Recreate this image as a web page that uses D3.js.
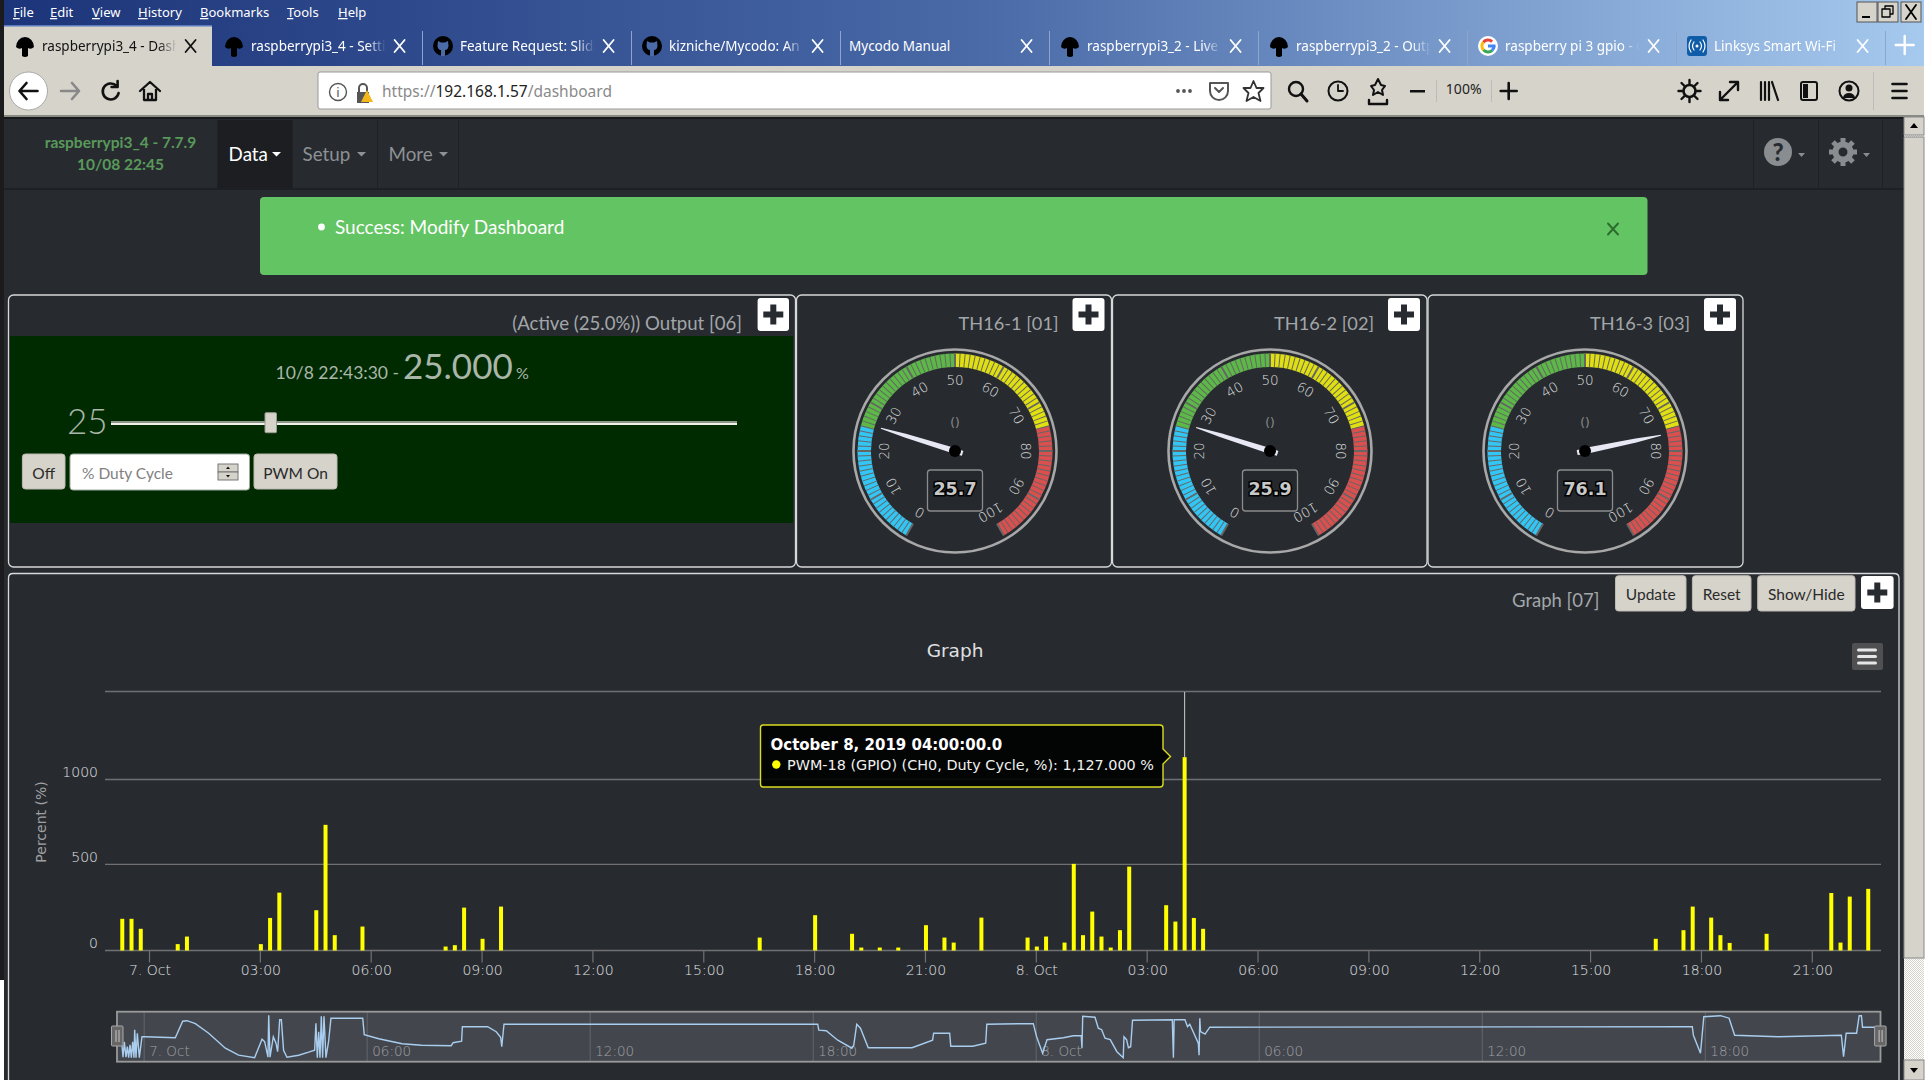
<!DOCTYPE html>
<html>
<head>
<meta charset="utf-8">
<title>Dashboard</title>
<script src="https://cdnjs.cloudflare.com/ajax/libs/d3/7.8.5/d3.min.js"></script>
<style>
  html, body { margin: 0; padding: 0; background: #fff; overflow: hidden; }
  svg { display: block; }
  text { white-space: pre; }
  .ui { font-family: "Noto Sans", sans-serif; }
  .page { font-family: "Lato", sans-serif; }
  .hc { font-family: "DejaVu Sans", sans-serif; }
</style>
</head>
<body>
<div id="container"></div>
<script>
// browser chrome text
const menuItems = ["File", "Edit", "View", "History", "Bookmarks", "Tools", "Help"];
const tabTitles = ["raspberrypi3_4 - Dashboard", "raspberrypi3_4 - Settings", "Feature Request: Slider", "kizniche/Mycodo: An env", "Mycodo Manual", "raspberrypi3_2 - Live", "raspberrypi3_2 - Output", "raspberry pi 3 gpio - Go", "Linksys Smart Wi-Fi"];
const tabIcons = ["mycodo", "mycodo", "github", "github", "", "mycodo", "mycodo", "google", "linksys"];

// gauges
const gaugeTitles = ["TH16-1 [01]", "TH16-2 [02]", "TH16-3 [03]"];
const gaugeValues = [25.7, 25.9, 76.1];
const bandStops = [0, 25, 50, 75, 100];
const bandColors = ["#33c6f4", "#5cb947", "#dfdf12", "#d9504f"];
const gaugeTicks = [0, 10, 20, 30, 40, 50, 60, 70, 80, 90, 100];

// main graph, hours counted from 7 Oct 00:00
const barHours = [-0.75, -0.5, -0.25, 0.75, 1, 3, 3.25, 3.5, 4.5, 4.75, 5, 5.75, 8, 8.25, 8.5, 9, 9.5,
  16.5, 18, 19, 19.25, 19.75, 20.25, 21, 21.5, 21.75, 22.5, 23.75, 24, 24.25, 24.75, 25, 25.25, 25.5, 25.75, 26, 26.25, 26.5,
  27.5, 27.75, 28, 28.25, 28.5,
  40.75, 41.5, 41.75, 42.25, 42.5, 42.75, 43.75, 45.5, 45.75, 46, 46.5];
const barValues = [184, 184, 126, 37, 81, 37, 189, 336, 234, 733, 89, 139, 23, 31, 249, 68, 255,
  75, 205, 97, 17, 17, 17, 147, 75, 46, 191, 75, 23, 81, 46, 503, 89, 226, 81, 17, 118, 487,
  263, 168, 1127, 189, 126,
  68, 118, 255, 191, 89, 44, 97, 334, 46, 313, 358];
const yTicks = [0, 500, 1000];
const yGrid = [0, 500, 1000, 1500];
const xTickHours = [0, 3, 6, 9, 12, 15, 18, 21, 24, 27, 30, 33, 36, 39, 42, 45];
const xTickLabels = ["7. Oct", "03:00", "06:00", "09:00", "12:00", "15:00", "18:00", "21:00", "8. Oct", "03:00", "06:00", "09:00", "12:00", "15:00", "18:00", "21:00"];

// navigator line, height read as percent of the navigator box
const navHours = [-0.615, -0.57, -0.534, -0.49, -0.454, -0.418, -0.382, -0.346, -0.31, -0.274, -0.256, -0.22, -0.185, -0.131, -0.059, 0.03,
  0.837, 1.035, 1.15, 1.376, 1.735, 2.183, 2.54, 2.97, 3.17, 3.24, 3.33, 3.35, 3.385, 3.474, 3.546, 3.59, 3.645, 3.69, 3.75, 3.84,
  4.156, 4.425, 4.586, 4.62, 4.658, 4.694, 4.73, 4.765, 4.8, 4.837, 4.89, 4.96, 5.025, 5.07, 5.88, 5.92, 6.31, 6.94,
  7.46, 8.26, 8.31, 8.54, 8.56, 9.24, 9.47, 9.59, 9.62, 9.68, 18.12, 18.15, 18.35, 18.66, 19.04, 19.09, 19.17, 19.27, 19.48,
  20.66, 21.21, 21.24, 21.67, 21.7, 22.29, 22.64, 22.67, 23.56, 23.92, 24.01, 24.17, 24.29, 24.73, 25, 25.21, 25.23, 25.25,
  25.58, 25.67, 25.76, 25.85, 25.99, 26.17, 26.34, 26.36, 26.43, 26.48, 26.54, 26.59, 27.66, 27.69, 27.71, 28, 28.07, 28.13,
  28.36, 28.38, 28.4, 28.42, 28.54, 28.67, 41.65, 41.68, 41.87, 41.96, 42.41, 42.64, 42.79, 43.96, 45.66, 45.72, 45.79, 46.07,
  46.14, 46.2, 46.23, 46.68];
const navValues = [47, 9, 40, 9, 30, 8, 34, 8, 40, 8, 64, 8, 57, 8, 50, 50,
  48, 81, 82, 76, 57, 27, 13, 8, 45, 40, 9, 93, 9, 50, 37, 20, 84, 84, 23, 9,
  13, 19, 23, 77, 8, 60, 8, 91, 8, 91, 8, 40, 87, 87, 87, 54, 46, 36,
  33, 32, 38, 41, 70, 70, 60, 49, 30, 75, 75, 63, 62, 43, 27, 33, 75, 67, 28,
  28, 43, 57, 57, 31, 31, 37, 75, 76, 76, 50, 17, 44, 48, 52, 52, 27, 91,
  89, 67, 64, 47, 44, 20, 8, 50, 44, 28, 30, 83, 84, 8, 84, 84, 70, 75,
  37, 13, 87, 60, 55, 69, 70, 53, 17, 90, 92, 87, 53, 50, 53, 10, 57, 57,
  92, 92, 69, 69];
const navTickHours = [0, 6, 12, 18, 24, 30, 36, 42];
const navTickLabels = ["7. Oct", "06:00", "12:00", "18:00", "8. Oct", "06:00", "12:00", "18:00"];

const CHROME = "#d6d3cb";
const PAGE = "#272b30";

const svg = d3.select("#container").append("svg").attr("width", 1928).attr("height", 1080);
const defs = svg.append("defs");

const titleGrad = defs.append("linearGradient").attr("id", "titleGrad");
titleGrad.append("stop").attr("offset", "0").attr("stop-color", "#1c3479");
titleGrad.append("stop").attr("offset", "0.5").attr("stop-color", "#4868a6");
titleGrad.append("stop").attr("offset", "1").attr("stop-color", "#a6c9ee");

const fadeGrad = defs.append("linearGradient").attr("id", "fadeGrad");
fadeGrad.append("stop").attr("offset", "0.86").attr("stop-color", "#fff");
fadeGrad.append("stop").attr("offset", "1").attr("stop-color", "#000");
defs.append("mask").attr("id", "tabFade").attr("maskUnits", "userSpaceOnUse")
  .attr("x", 0).attr("y", -20).attr("width", 135).attr("height", 40)
  .append("rect").attr("x", 0).attr("y", -20).attr("width", 135).attr("height", 40).attr("fill", "url(#fadeGrad)");

const hatch = defs.append("pattern").attr("id", "hatch").attr("width", 2).attr("height", 2).attr("patternUnits", "userSpaceOnUse");
hatch.append("rect").attr("width", 2).attr("height", 2).attr("fill", "#fff");
hatch.append("rect").attr("width", 1).attr("height", 1).attr("fill", CHROME);
hatch.append("rect").attr("x", 1).attr("y", 1).attr("width", 1).attr("height", 1).attr("fill", CHROME);

function rect(g, x0, y0, x1, y1, fill, r) {
  return g.append("rect").attr("x", x0).attr("y", y0).attr("width", x1 - x0).attr("height", y1 - y0)
    .attr("fill", fill).attr("rx", r || 0);
}
function label(g, x, y, str, size, fill, anchor) {
  return g.append("text").attr("x", x).attr("y", y).text(str)
    .attr("font-size", size).attr("fill", fill).attr("text-anchor", anchor || "start");
}
function icon(g, x, y, d, fill, stroke, width) {
  return g.append("path").attr("transform", `translate(${x},${y})`).attr("d", d)
    .attr("fill", fill || "none").attr("stroke", stroke || "none").attr("stroke-width", width || 0)
    .attr("stroke-linecap", "round").attr("stroke-linejoin", "round");
}

drawChrome();
drawPageHeader();
drawOutputBox();
gaugeTitles.forEach(drawGauge);
drawGraph();
drawScrollbar();

function tabIcon(g, kind) {
  const cx = 21;
  if (kind === "mycodo") {
    icon(g, cx, 0, "M-9 1 A9 10 0 0 1 9 1 Q6 4 3 2 L3 10 Q0 12 -3 10 L-3 2 Q-6 4 -9 1Z", "#000");
  } else if (kind === "github") {
    g.append("circle").attr("cx", cx).attr("r", 10).attr("fill", "#000");
    icon(g, cx, 0, "M-5 -5 L-2 -3.5 L2 -3.5 L5 -5 L5.5 0 Q5 4 2 4 L2 10 L-2 10 L-2 4 Q-5 4 -5.5 0Z", "#4a6aa8");
  } else if (kind === "google") {
    g.append("circle").attr("cx", cx).attr("r", 10).attr("fill", "#fff");
    const gArc = d3.arc().innerRadius(4.5).outerRadius(7.5);
    [["#ea4335", -0.9, 0.75], ["#fbbc05", -2.3, -0.9], ["#34a853", -3.9, -2.3], ["#4285f4", 1.57, 2.4]].forEach((s) => {
      g.append("path").attr("transform", `translate(${cx},0)`)
        .attr("d", gArc({ startAngle: s[1], endAngle: s[2] })).attr("fill", s[0]);
    });
    rect(g, cx, -1.5, cx + 7.5, 1.5, "#4285f4");
  } else if (kind === "linksys") {
    rect(g, cx - 10, -10, cx + 10, 10, "#0f5da8", 3);
    icon(g, cx, 0, "M-3 -4 Q-6 0 -3 4 M3 -4 Q6 0 3 4 M-6 -6 Q-10 0 -6 6 M6 -6 Q10 0 6 6", "none", "#fff", 1.2);
    g.append("circle").attr("cx", cx).attr("r", 1.5).attr("fill", "#fff");
  }
}

function drawChrome() {
  const g = svg.append("g").attr("class", "ui");
  rect(g, 0, 0, 1924, 66, "url(#titleGrad)");
  rect(g, 0, 66, 1924, 116, CHROME);
  rect(g, 0, 115, 1924, 117, "#8a8a84");

  // menu bar
  const menuX = [13, 50, 92, 138, 200, 287, 338];
  menuItems.forEach((m, i) => {
    const t = label(g, menuX[i], 17, "", 13, "#fff");
    t.append("tspan").attr("text-decoration", "underline").text(m[0]);
    t.append("tspan").text(m.slice(1));
  });

  // window buttons
  [[1857, "min"], [1878, "max"], [1901, "x"]].forEach((b) => {
    rect(g, b[0], 2, b[0] + 20, 22, CHROME).attr("stroke", "#555").attr("stroke-width", 1);
  });
  rect(g, 1862, 16, 1870, 18, "#000");
  icon(g, 1887, 12, "M-5 -3 H3 V5 H-5Z M-2 -3 V-6 H6 V2 H3", "none", "#000", 1.3);
  icon(g, 1911, 12, "M-5 -7 L5 7 M5 -7 L-5 7", "none", "#000", 1.8);

  // tabs
  rect(g, 4, 25, 212, 66, CHROME);
  rect(g, 4, 25, 212, 26.5, "#5a7ac0");
  tabTitles.forEach((t, i) => {
    const left = 4 + 209 * i;
    const tg = g.append("g").attr("transform", `translate(${left},46)`);
    const active = i === 0;
    if (!active && i > 0) rect(tg, 209, -15, 210, 19, "#8ea6cc");
    tabIcon(tg, tabIcons[i]);
    const textX = tabIcons[i] ? 38 : 9;
    const clip = tg.append("g").attr("transform", `translate(${textX},0)`);
    if (tabIcons[i]) clip.attr("mask", "url(#tabFade)");
    label(clip, 0, 5, t, 13.5, active ? "#111" : "#fff");
    const c = active ? "#111" : "#fff";
    icon(tg, 186.6, 0, "M-5 -6 L5 6 M5 -6 L-5 6", "none", c, 1.8);
  });
  icon(g, 1904.7, 45, "M-9 0 H9 M0 -9 V9", "none", "#fff", 2.4);

  // nav buttons
  g.append("circle").attr("cx", 28.5).attr("cy", 91).attr("r", 19).attr("fill", "#fff").attr("stroke", "#aaa");
  icon(g, 28.5, 91, "M9 0 H-9 M-2 -8 L-9 0 L-2 8", "none", "#111", 2.6);
  icon(g, 70, 91, "M-9 0 H9 M2 -8 L9 0 L2 8", "none", "#888", 2.6);
  icon(g, 110.6, 91, "M6 -5 A8 8 0 1 0 8 2 M7 -10 V-4 H1", "none", "#111", 2.6);
  icon(g, 150, 91, "M-10 0 L0 -9 L10 0 M-6 -2 V9 H6 V-2 M-2 9 V3 H2 V9", "none", "#111", 2.3);

  // url bar
  rect(g, 318, 72, 1271, 109, "#fff", 2).attr("stroke", "#999");
  g.append("circle").attr("cx", 338).attr("cy", 92).attr("r", 8.5).attr("fill", "none").attr("stroke", "#555").attr("stroke-width", 1.4);
  label(g, 338, 97, "i", 13, "#555", "middle");
  icon(g, 363, 94, "M-6 -2 H6 V9 H-6Z", "#555");
  icon(g, 363, 94, "M-4 -2 V-6 A4 4 0 0 1 4 -6 V-2", "none", "#555", 2);
  icon(g, 367, 97, "M0 -7 L6 5 H-6Z", "#f3b71b");
  const url = label(g, 382, 97, "", 15.5, "#8a8a8a");
  url.append("tspan").text("https://");
  url.append("tspan").attr("fill", "#222").text("192.168.1.57");
  url.append("tspan").text("/dashboard");

  [1178, 1184, 1190].forEach((x) => g.append("circle").attr("cx", x).attr("cy", 91).attr("r", 1.9).attr("fill", "#555"));
  icon(g, 1219, 91, "M-9 -8 H9 V0 A9 9 0 0 1 -9 0Z M-4 -3 L0 1 L4 -3", "none", "#555", 2);
  icon(g, 1253.5, 91, "M0 -10 L3 -3 L10 -3 L5 2 L7 10 L0 6 L-7 10 L-5 2 L-10 -3 L-3 -3Z", "none", "#333", 1.8);
  icon(g, 1296, 89, "M5 5 L11 12", "none", "#111", 3);
  g.append("circle").attr("cx", 1296).attr("cy", 89).attr("r", 7).attr("fill", "none").attr("stroke", "#111").attr("stroke-width", 2.4);
  g.append("circle").attr("cx", 1338).attr("cy", 91).attr("r", 9.5).attr("fill", "none").attr("stroke", "#111").attr("stroke-width", 2);
  icon(g, 1338, 91, "M0 -6 V0 H5", "none", "#111", 1.8);
  icon(g, 1378, 88, "M0 -9 L3 -3 L7 -2 L4 2 L5 7 L0 4 L-5 7 L-4 2 L-7 -2 L-3 -3Z", "none", "#111", 2);
  icon(g, 1378, 103, "M-9 -3 V1 H9 V-3", "none", "#111", 2.4);
  rect(g, 1410, 90, 1425, 92.5, "#111");
  rect(g, 1436, 80, 1437, 102, "#bbb");
  label(g, 1463.7, 94, "100%", 14, "#222", "middle");
  rect(g, 1491, 80, 1492, 102, "#bbb");
  icon(g, 1508.7, 91, "M-8 0 H8 M0 -8 V8", "none", "#111", 2.6);
  g.append("circle").attr("cx", 1689.5).attr("cy", 91).attr("r", 6).attr("fill", "none").attr("stroke", "#111").attr("stroke-width", 2.6);
  icon(g, 1689.5, 91, "M0 -11 V-7 M0 7 V11 M-11 0 H-7 M7 0 H11 M-8 -8 L-5 -5 M5 5 L8 8 M8 -8 L5 -5 M-5 5 L-8 8", "none", "#111", 2.4);
  icon(g, 1729, 91, "M-8 8 L8 -8 M1 -9 H9 V-1 M-9 1 V9 H-1", "none", "#111", 2.4);
  icon(g, 1769, 91, "M-8 -9 V9 M-4 -9 V9 M0 -9 V9 M3 -9 L9 9", "none", "#111", 2.2);
  rect(g, 1801, 82, 1817, 100, "none", 2).attr("stroke", "#111").attr("stroke-width", 2);
  rect(g, 1803, 84, 1808, 98, "#111");
  g.append("circle").attr("cx", 1849).attr("cy", 91).attr("r", 9.5).attr("fill", "none").attr("stroke", "#111").attr("stroke-width", 2);
  g.append("circle").attr("cx", 1849).attr("cy", 88).attr("r", 3.5).attr("fill", "#111");
  icon(g, 1849, 98, "M-6 0 A6 5 0 0 1 6 0Z", "#111");
  rect(g, 1873, 72, 1874, 110, "#bbb");
  icon(g, 1899.5, 91, "M-7 -7 H7 M-7 0 H7 M-7 7 H7", "none", "#111", 2.6);

  // window edge strips
  rect(svg, 1924, 0, 1928, 1080, "#fff");
  rect(svg, 0, 0, 4, 980, "#1b1b1d");
  rect(svg, 0, 980, 4, 1080, "#fff");
}

function drawPageHeader() {
  const g = svg.append("g").attr("class", "page");
  rect(g, 4, 117, 1904, 1080, PAGE);
  rect(g, 4, 117, 1904, 119, "#16181b");
  rect(g, 4, 188.5, 1904, 189.5, "#15171a");
  rect(g, 217, 120, 292, 188, "#1c1e22");
  [217, 292, 377, 458, 1753, 1818, 1882].forEach((x) => rect(g, x, 120, x + 1, 188, "#1e2125"));

  label(g, 120.5, 148, "raspberrypi3_4 - 7.7.9", 15.5, "#59995a", "middle").attr("font-weight", 700);
  label(g, 120.5, 170, "10/08 22:45", 15.5, "#59995a", "middle").attr("font-weight", 700);

  [["Data", 228.6, "#fff", 272], ["Setup", 302.5, "#8e9194", 357], ["More", 388.5, "#8e9194", 439]].forEach((n) => {
    label(g, n[1], 161, n[0], 18.8, n[2]);
    icon(g, n[3], 152, "M0 0 H9 L4.5 4.5Z", n[2]);
  });
  g.append("circle").attr("cx", 1778).attr("cy", 152).attr("r", 14).attr("fill", "#8a8d90");
  label(g, 1778, 161, "?", 24, PAGE, "middle").attr("font-weight", 900);
  icon(g, 1798, 153, "M0 0 H7 L3.5 4Z", "#8a8d90");
  icon(g, 1843, 152, "M0 -14 V-9 M0 14 V9 M-14 0 H-9 M14 0 H9 M-10 -10 L-6 -6 M10 10 L6 6 M10 -10 L6 -6 M-10 10 L-6 6", "none", "#8a8d90", 5).attr("stroke-linecap", "butt");
  g.append("circle").attr("cx", 1843).attr("cy", 152).attr("r", 7.5).attr("fill", "none").attr("stroke", "#8a8d90").attr("stroke-width", 6);
  icon(g, 1863, 153, "M0 0 H7 L3.5 4Z", "#8a8d90");

  rect(g, 260, 197, 1647.5, 275, "#62c462", 4);
  g.append("circle").attr("cx", 321.5).attr("cy", 227).attr("r", 3.4).attr("fill", "#fff");
  label(g, 335, 234, "Success: Modify Dashboard", 19, "#fff");
  icon(g, 1613, 229, "M-5 -5.5 L5 5.5 M5 -5.5 L-5 5.5", "none", "#2d6b2d", 1.9);
}

function plusButton(g, x0, y0, x1, y1) {
  rect(g, x0, y0, x1, y1, "#fff", 3);
  const cx = (x0 + x1) / 2, cy = (y0 + y1) / 2;
  icon(g, cx, cy, "M-10 0 H10 M0 -10 V10", "none", "#272b30", 6).attr("stroke-linecap", "butt");
}
function box(g, x0, y0, x1, y1) {
  rect(g, x0, y0, x1, y1, "none", 5).attr("stroke", "#d8d8d8").attr("stroke-width", 1.3);
}
function button(g, x0, y0, x1, y1, str) {
  rect(g, x0, y0, x1, y1, CHROME, 3).attr("stroke", "#bdbab2");
  label(g, (x0 + x1) / 2, (y0 + y1) / 2 + 7, str, 15.5, "#2a2a2a", "middle");
}

function drawOutputBox() {
  const g = svg.append("g").attr("class", "page");
  rect(g, 10, 336, 793, 523, "#002b00");
  box(g, 8.5, 295, 795.5, 567);
  plusButton(g, 757.6, 298, 789, 331);
  label(g, 742, 329.5, "(Active (25.0%)) Output [06]", 18.6, "#a3a6a9", "end");
  label(g, 275.5, 379, "10/8 22:43:30 -", 17.5, "#aab6aa");
  label(g, 403, 379, "25.000", 35, "#aab6aa").attr("font-weight", 400);
  label(g, 516, 379, "%", 16, "#aab6aa");
  label(g, 67, 434, "25", 35, "#aab6aa").attr("font-weight", 300);
  rect(g, 111, 421, 737, 423, "#8d958d");
  rect(g, 111, 423, 737, 425, "#f0f0ea");
  rect(g, 265, 412.7, 276.5, 432.7, CHROME, 1).attr("stroke", "#9a9a90");
  button(g, 22.4, 454, 65, 489, "Off");
  rect(g, 70, 454, 249.5, 490, "#fff", 3).attr("stroke", "#9ea89e");
  label(g, 82, 479, "% Duty Cycle", 15.5, "#7f7f7f");
  rect(g, 218, 464, 238, 472, CHROME).attr("stroke", "#777");
  rect(g, 218, 472, 238, 480, CHROME).attr("stroke", "#777");
  icon(g, 228, 468, "M-2 1 H2 L0 -1.5Z", "#111");
  icon(g, 228, 476, "M-2 -1 H2 L0 1.5Z", "#111");
  button(g, 254, 454, 337, 489, "PWM On");
}

function drawGauge(title, i) {
  const left = [796.5, 1112.5, 1428][i];
  const right = [1111.5, 1427, 1743][i];
  const cx = [955, 1270, 1585][i];
  const cy = 451;
  const pageG = svg.append("g").attr("class", "page");
  box(pageG, left, 295, right, 567);
  plusButton(pageG, right - 39, 298, right - 7, 331);
  label(pageG, right - 53, 329.5, title, 18.2, "#a3a6a9", "end");

  const g = svg.append("g").attr("class", "hc").attr("transform", `translate(${cx},${cy})`);
  const angle = d3.scaleLinear().domain([0, 100]).range([-150, 150]);
  const rad = (d) => (angle(d) * Math.PI) / 180;
  g.append("circle").attr("r", 101.5).attr("fill", "none").attr("stroke", "#a8a8a8").attr("stroke-width", 2.6);

  const arc = d3.arc().innerRadius(84).outerRadius(97.5);
  bandColors.forEach((c, k) => {
    g.append("path").attr("fill", c)
      .attr("d", arc({ startAngle: rad(bandStops[k]), endAngle: rad(bandStops[k + 1]) }));
  });
  d3.range(0, 101).forEach((v) => {
    const major = v % 10 === 0;
    g.append("line").attr("transform", `rotate(${angle(v)})`)
      .attr("y1", -84).attr("y2", -97.5)
      .attr("stroke", "#666").attr("stroke-width", major ? 2 : 1);
  });
  gaugeTicks.forEach((v) => {
    const a = rad(v);
    g.append("text").text(v)
      .attr("transform", `translate(${71 * Math.sin(a)},${-71 * Math.cos(a)}) rotate(${angle(v)})`)
      .attr("text-anchor", "middle").attr("dy", "0.36em")
      .attr("font-size", 13.5).attr("font-weight", 200).attr("fill", "#dcdcdc");
  });
  g.append("text").text("()").attr("y", -24).attr("text-anchor", "middle")
    .attr("font-size", 12).attr("fill", "#8c8c8c");

  rect(g, -27.5, 19, 27.5, 60, "#25282c", 3).attr("stroke", "#8b8b8b").attr("stroke-width", 1.3);
  g.append("text").text(gaugeValues[i]).attr("y", 44).attr("text-anchor", "middle")
    .attr("font-size", 17.5).attr("font-weight", 700).attr("fill", "#c8c8c8")
    .attr("stroke", "#000").attr("stroke-width", 3).attr("paint-order", "stroke");

  g.append("path").attr("transform", `rotate(${angle(gaugeValues[i])})`)
    .attr("d", "M-2.5 8 L-3 0 L-2 -52 L-0.5 -77.5 L0.5 -77.5 L2 -52 L3 0 L2.5 8Z")
    .attr("fill", "#e8e8f4");
  g.append("circle").attr("r", 6).attr("fill", "#000");
}

function drawGraph() {
  const pageG = svg.append("g").attr("class", "page");
  pageG.append("path").attr("d", "M8.5 1090 V578 Q8.5 573.5 13 573.5 H1894 Q1899 573.5 1899 578 V1090")
    .attr("fill", "none").attr("stroke", "#d8d8d8").attr("stroke-width", 1.3);
  label(pageG, 1599.4, 607, "Graph [07]", 18.5, "#a3a6a9", "end");
  button(pageG, 1615.5, 575.7, 1686, 611, "Update");
  button(pageG, 1692.4, 575.7, 1751, 611, "Reset");
  button(pageG, 1757.7, 575.7, 1855, 611, "Show/Hide");
  plusButton(pageG, 1861, 576, 1893.6, 609);

  const g = svg.append("g").attr("class", "hc");
  label(g, 955, 657, "Graph", 18.5, "#e0e0e3", "middle");

  rect(g, 1852, 643, 1883, 670, "#505053", 2);
  [650, 656.5, 663].forEach((y) => rect(g, 1857, y - 1.5, 1877, y + 1.5, "#e6e6e6", 1.5));

  const x = d3.scaleLinear().domain([0, 45]).range([150, 1812.8]);
  const y = d3.scaleLinear().domain(yGrid).range([950.5, 864.4, 779.5, 691.5]);
  const plotLeft = 105, plotRight = 1881;

  g.selectAll(".grid").data(yGrid).enter().append("line").attr("class", "grid")
    .attr("x1", plotLeft).attr("x2", plotRight)
    .attr("y1", (d) => y(d)).attr("y2", (d) => y(d))
    .attr("stroke", "#707073").attr("stroke-width", 1.4);

  const xAxis = d3.axisBottom(x).tickValues(xTickHours)
    .tickFormat((d, i) => xTickLabels[i]).tickSize(12).tickPadding(3);
  const xg = g.append("g").attr("transform", `translate(0,${y(0)})`).call(xAxis);
  xg.select(".domain").remove();
  xg.selectAll("line").attr("stroke", "#707073").attr("stroke-width", 1.2).attr("transform", "translate(-1,0)");
  xg.selectAll("text").attr("fill", "#e0e0e3").attr("font-size", 14).attr("font-weight", 200).attr("font-family", "DejaVu Sans").attr("dx", -0.5);

  const yAxis = d3.axisLeft(y).tickValues(yTicks).tickFormat(d3.format("d")).tickSize(0).tickPadding(7);
  const yg = g.append("g").attr("transform", `translate(${plotLeft},0)`).call(yAxis);
  yg.select(".domain").remove();
  yg.selectAll("text").attr("fill", "#e0e0e3").attr("font-size", 14).attr("font-weight", 200).attr("font-family", "DejaVu Sans").attr("dy", "-0.2em");

  g.append("text").text("Percent (%)").attr("transform", "translate(46,822) rotate(-90)")
    .attr("text-anchor", "middle").attr("font-size", 14).attr("fill", "#a0a0a3");

  g.selectAll(".bar").data(barHours).enter().append("rect").attr("class", "bar")
    .attr("x", (d) => x(d) - 2).attr("width", 4)
    .attr("y", (d, i) => y(barValues[i]))
    .attr("height", (d, i) => y(0) - y(barValues[i]))
    .attr("fill", "#ffff00");

  // crosshair and tooltip on the 04:00 bar
  const hover = barHours.indexOf(28);
  g.append("line").attr("x1", x(28)).attr("x2", x(28)).attr("y1", 692).attr("y2", y(barValues[hover]))
    .attr("stroke", "#cccccc").attr("stroke-width", 1);
  g.append("path").attr("d", "M763 725 H1160 Q1163 725 1163 728 V749 L1170.5 756.5 L1163 764 V784 Q1163 787 1160 787 H763 Q760.5 787 760.5 784 V728 Q760.5 725 763 725Z")
    .attr("fill", "rgba(0,0,0,0.9)").attr("stroke", "#dcdc1e").attr("stroke-width", 1.4);
  label(g, 770.5, 750, "October 8, 2019 04:00:00.0", 15, "#fff").attr("font-weight", 700);
  g.append("circle").attr("cx", 776.3).attr("cy", 764.5).attr("r", 4.2).attr("fill", "#ffff00");
  label(g, 787, 769.5, "PWM-18 (GPIO) (CH0, Duty Cycle, %): ", 14.4, "#f0f0f0").append("tspan").text("1,127.000 %");

  // navigator
  const nx = d3.scaleLinear().domain([0, 42]).range([144.2, 1705.3]);
  const ny = d3.scaleLinear().domain([0, 100]).range([1061.7, 1011.7]);
  const nav = svg.append("g").attr("class", "hc");
  rect(nav, 117, 1011.7, 1880.5, 1061.7, "#43474d");
  nav.selectAll(".ngrid").data(navTickHours).enter().append("line").attr("class", "ngrid")
    .attr("x1", (d) => nx(d)).attr("x2", (d) => nx(d)).attr("y1", 1011.7).attr("y2", 1061.7)
    .attr("stroke", "#5d6167").attr("stroke-width", 1.2);
  nav.selectAll(".nlabel").data(navTickLabels).enter().append("text").attr("class", "nlabel")
    .attr("x", (d, i) => nx(navTickHours[i]) + 5).attr("y", 1056).text((d) => d)
    .attr("font-size", 13.5).attr("font-weight", 200).attr("fill", "#a0a0a3");
  const navLine = d3.line().x((d) => nx(d)).y((d, i) => ny(navValues[i]));
  nav.append("path").datum(navHours).attr("d", navLine)
    .attr("fill", "none").attr("stroke", "#a9cdee").attr("stroke-width", 1.4);
  rect(nav, 117, 1011.7, 1880.5, 1061.7, "none").attr("stroke", "#9a9a9a").attr("stroke-width", 1.8);
  [111.5, 1874.6].forEach((hx) => {
    rect(nav, hx, 1026, hx + 11.5, 1046, "#666666", 1).attr("stroke", "#a8a8a8");
    [hx + 4, hx + 7].forEach((lx) => rect(nav, lx, 1030, lx + 1, 1042, "#c8c8c8"));
  });
}

function drawScrollbar() {
  const g = svg.append("g");
  rect(g, 1904, 117, 1924, 1080, "url(#hatch)");
  rect(g, 1904, 117, 1924, 135, CHROME).attr("stroke", "#888");
  icon(g, 1914, 126, "M-4 2 H4 L0 -3Z", "#000");
  rect(g, 1904, 137, 1924, 958, CHROME).attr("stroke", "#888");
  rect(g, 1904, 1060, 1924, 1080, CHROME).attr("stroke", "#888");
  icon(g, 1914, 1070, "M-4 -2 H4 L0 3Z", "#000");
}
</script>
</body>
</html>
